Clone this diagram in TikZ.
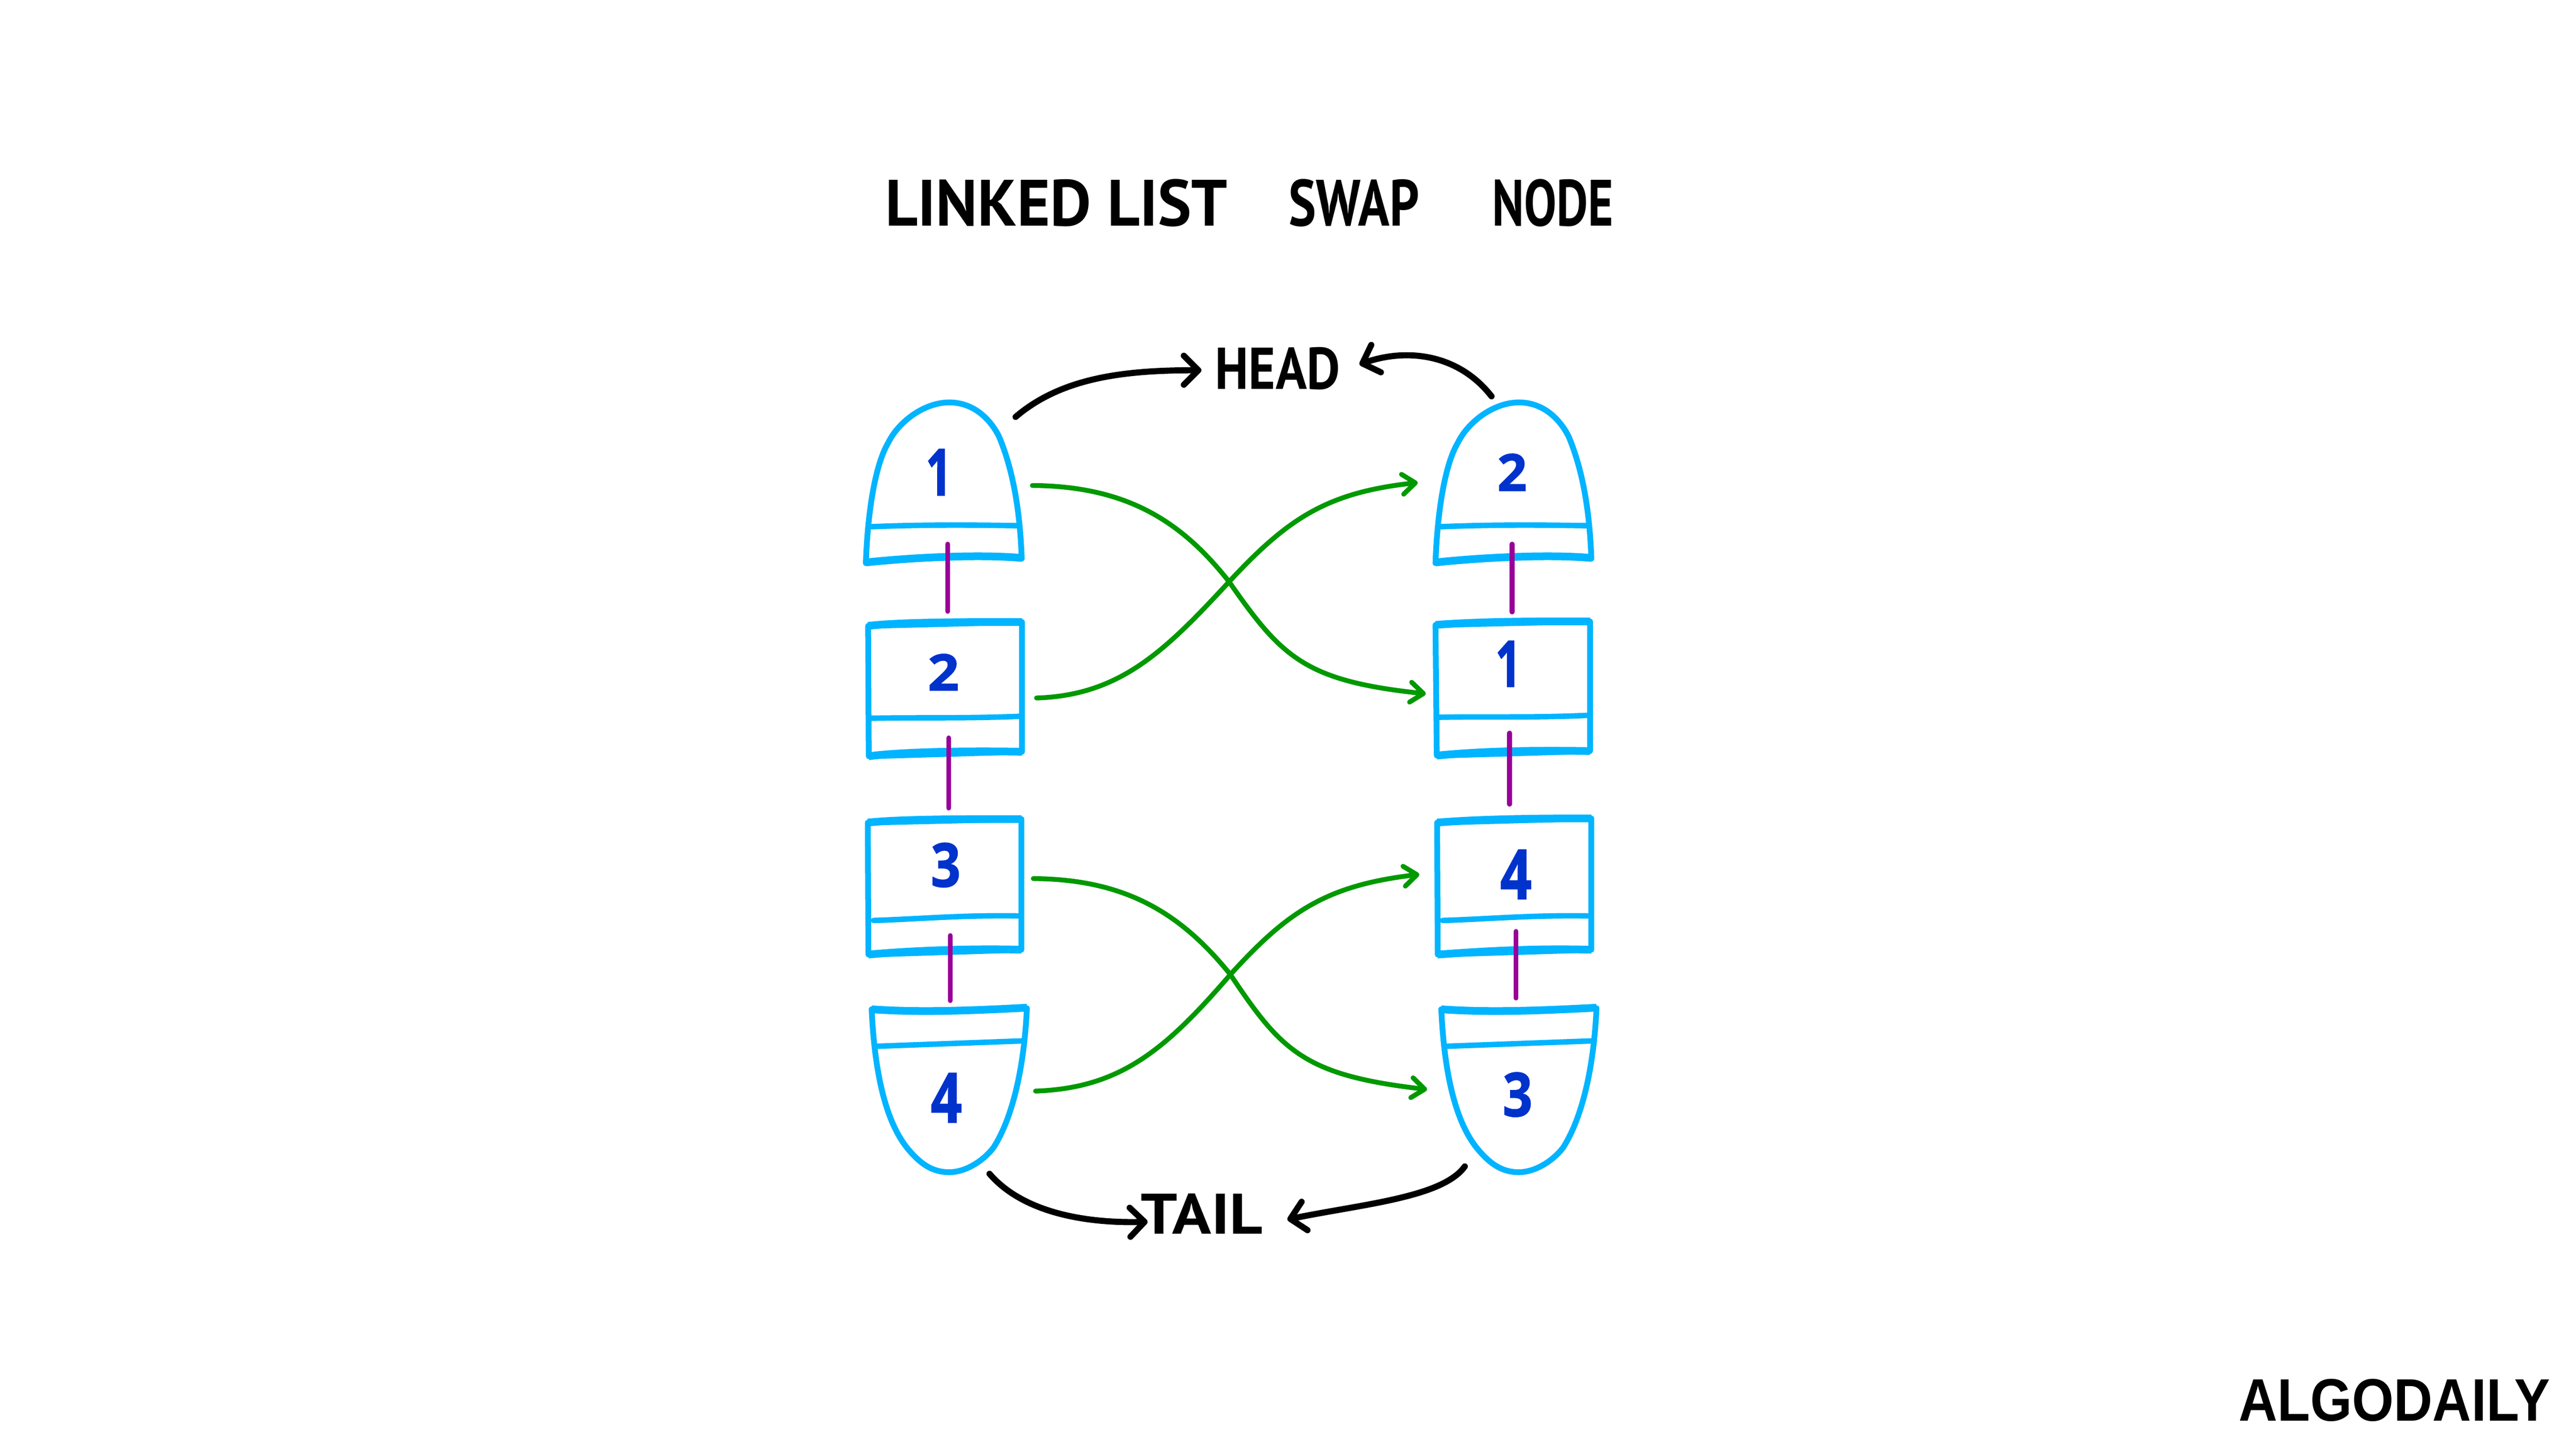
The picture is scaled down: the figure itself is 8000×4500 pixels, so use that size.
\documentclass[tikz,border=0pt]{standalone}
\usepackage{fontspec}
\usepackage{graphicx}
\usetikzlibrary{arrows.meta}
\setmainfont{Liberation Sans}
\newfontfamily\handfont{PT Sans}[BoldFont={PT Sans Bold}]
\newfontfamily\digitface{Open Sans}[BoldFeatures={FakeBold=1.5}]
\newcommand{\fit}[3]{\resizebox{#1cm}{#2cm}{\handfont\bfseries #3}}
\newcommand{\dfit}[3]{\resizebox{#1cm}{#2cm}{\digitface\bfseries #3}}
\definecolor{nodeblue}{HTML}{00B4FF}
\definecolor{digitblue}{HTML}{0033CC}
\definecolor{linkpurple}{HTML}{990099}
\definecolor{swapgreen}{HTML}{009900}
\tikzset{
  x=0.01cm, y=-0.01cm,
  box/.style={draw=nodeblue, line width=0.18cm, line join=round},
  bar/.style={draw=nodeblue, line width=0.24cm},
  divider/.style={draw=nodeblue, line width=0.17cm, line cap=round},
  link/.style={draw=linkpurple, line width=0.15cm, line cap=round},
  swap/.style={draw=swapgreen, line width=0.15cm, line cap=round, -{Straight Barb[length=0.4cm,width=0.62cm,line width=0.15cm,round]}},
  pointer/.style={draw=black, line width=0.19cm, line cap=round, -{Straight Barb[length=0.45cm,width=0.9cm,line width=0.19cm,round]}},
  digit/.style={text=digitblue, inner sep=0pt},
  hand/.style={inner sep=0pt, text=black},
}
\newcommand{\domeshape}{%
\path[box] (2689,1749) .. controls (2695,1580) and (2720,1440) .. (2758,1376)
  .. controls (2790,1310) and (2870,1250) .. (2948,1250)
  .. controls (3030,1250) and (3080,1310) .. (3103,1357)
  .. controls (3150,1470) and (3168,1600) .. (3173,1735)
  .. controls (3050,1722) and (2850,1730) .. cycle;
\path[bar] (2689,1747) .. controls (2850,1730) and (3050,1722) .. (3173,1733);
\path[divider] (2707,1636) .. controls (2850,1630) and (3000,1630) .. (3163,1633);}
\newcommand{\bowlshape}{%
\path[box] (3189,3132) .. controls (3180,3330) and (3140,3480) .. (3085,3565)
  .. controls (3050,3610) and (2995,3641) .. (2948,3641)
  .. controls (2895,3641) and (2860,3615) .. (2825,3575)
  .. controls (2750,3490) and (2716,3330) .. (2707,3135)
  .. controls (2850,3145) and (3000,3140) .. cycle;
\path[bar] (2707,3135) .. controls (2850,3145) and (3000,3140) .. (3189,3130);
\path[divider] (2718,3250) -- (3180,3233);}
\begin{document}
\begin{tikzpicture}
\useasboundingbox[fill=white] (0,0) rectangle (8000,4500);
% title
\node[hand] (t1) at (3281,630) {\fit{10.62}{1.45}{LINKED LIST}};
\node[hand] (t2) at (4205,630) {\fit{4.06}{1.45}{SWAP}};
\node[hand] (t3) at (4823,630) {\fit{3.76}{1.45}{NODE}};
% dome and bowl nodes
\domeshape
\begin{scope}[xshift=17.68cm]\domeshape\end{scope}
\bowlshape
\begin{scope}[xshift=17.68cm]\bowlshape\end{scope}
% rectangles
\path[box] (2696,1944) -- (3174,1932) -- (3174,2335) -- (2698,2349) -- cycle;
\path[bar] (2696,1944) .. controls (2800,1932) and (3000,1932) .. (3174,1932);
\path[bar] (2698,2349) .. controls (2800,2335) and (3000,2332) .. (3174,2335);
\path[divider] (2704,2231) .. controls (2850,2228) and (3000,2232) .. (3166,2225);
\path[box] (4458,1941) -- (4938,1930) -- (4938,2333) -- (4462,2347) -- cycle;
\path[bar] (4458,1941) .. controls (4600,1930) and (4760,1930) .. (4938,1930);
\path[bar] (4462,2347) .. controls (4600,2333) and (4760,2330) .. (4938,2333);
\path[divider] (4468,2228) .. controls (4620,2225) and (4760,2230) .. (4930,2222);
\path[box] (2695,2555) -- (3172,2544) -- (3172,2950) -- (2697,2965) -- cycle;
\path[bar] (2695,2555) .. controls (2800,2544) and (3000,2544) .. (3172,2544);
\path[bar] (2697,2965) .. controls (2800,2955) and (3000,2945) .. (3172,2950);
\path[divider] (2713,2859) .. controls (2850,2855) and (2980,2842) .. (3165,2845);
\path[box] (4463,2555) -- (4942,2542) -- (4942,2950) -- (4465,2965) -- cycle;
\path[bar] (4463,2555) .. controls (4600,2544) and (4760,2542) .. (4942,2542);
\path[bar] (4465,2965) .. controls (4600,2955) and (4760,2945) .. (4942,2950);
\path[divider] (4480,2859) .. controls (4620,2855) and (4750,2842) .. (4935,2845);
% digits
\node[digit] (a1) at (2915,1467) {\dfit{0.8}{1.43}{1}};
\node[digit] (a2) at (2930,2088) {\dfit{0.97}{1.13}{2}};
\node[digit] (a3) at (2937,2687) {\dfit{0.92}{1.36}{3}};
\node[digit] (a4) at (2939,3410) {\dfit{0.97}{1.53}{4}};
\node[digit] (b2) at (4696,1467) {\dfit{0.92}{1.15}{2}};
\node[digit] (b1) at (4684,2062) {\dfit{0.8}{1.42}{1}};
\node[digit] (b4) at (4708,2716) {\dfit{0.97}{1.53}{4}};
\node[digit] (b3) at (4713,3400) {\dfit{0.92}{1.36}{3}};
% links
\coordinate (la1) at (2943,1690); \coordinate (la2) at (2943,1899);
\coordinate (lb1) at (2946,2292); \coordinate (lb2) at (2946,2510);
\coordinate (lc1) at (2951,2906); \coordinate (lc2) at (2951,3108);
\coordinate (ra1) at (4696,1690); \coordinate (ra2) at (4696,1901);
\coordinate (rb1) at (4688,2277); \coordinate (rb2) at (4688,2498);
\coordinate (rc1) at (4708,2893); \coordinate (rc2) at (4708,3100);
\draw[link] (la1) -- (la2);
\draw[link] (lb1) -- (lb2);
\draw[link] (lc1) -- (lc2);
\draw[link] (ra1) -- (ra2);
\draw[link] (rb1) -- (rb2);
\draw[link] (rc1) -- (rc2);
% swaps
\coordinate (s1) at (3206,1508); \coordinate (e1) at (4428,2155); \coordinate (x1) at (3817,1807);
\coordinate (s2) at (3219,2168); \coordinate (e2) at (4403,1499);
\coordinate (s3) at (3209,2729); \coordinate (e3) at (4432,3384); \coordinate (x2) at (3821,3027);
\coordinate (s4) at (3216,3389); \coordinate (e4) at (4408,2716);
\draw[swap] (s1) .. controls (3500,1510) and (3670,1620) .. (x1) .. controls (3980,2040) and (4050,2115) .. (e1);
\draw[swap] (s2) .. controls (3480,2160) and (3620,2020) .. (x1) .. controls (4000,1610) and (4120,1530) .. (e2);
\draw[swap] (s3) .. controls (3500,2731) and (3670,2840) .. (x2) .. controls (3980,3265) and (4050,3340) .. (e3);
\draw[swap] (s4) .. controls (3480,3380) and (3620,3260) .. (x2) .. controls (4000,2830) and (4120,2750) .. (e4);
% head and tail
\node[hand] (head) at (3968,1145) {\fit{3.88}{1.3}{HEAD}};
\node[hand] (tail) at (3732,3770) {\fit{3.79}{1.25}{TAIL}};
\coordinate (p1) at (3154,1295); \coordinate (p2) at (3731,1150);
\coordinate (p3) at (4632,1231); \coordinate (p4) at (4222,1132);
\coordinate (p5) at (3073,3646); \coordinate (p6) at (3564,3795);
\coordinate (p7) at (4549,3623); \coordinate (p8) at (3998,3788);
\draw[pointer] (p1) .. controls (3300,1170) and (3500,1150) .. (p2);
\draw[pointer] (p3) .. controls (4530,1100) and (4370,1080) .. (p4);
\draw[pointer] (p5) .. controls (3180,3770) and (3380,3800) .. (p6);
\draw[pointer] (p7) .. controls (4480,3720) and (4230,3740) .. (p8);
% brand
\node[inner sep=0pt] (brand) at (7436,4350) {\resizebox{9.66cm}{1.3cm}{\bfseries ALGODAILY}};
\end{tikzpicture}
\end{document}
